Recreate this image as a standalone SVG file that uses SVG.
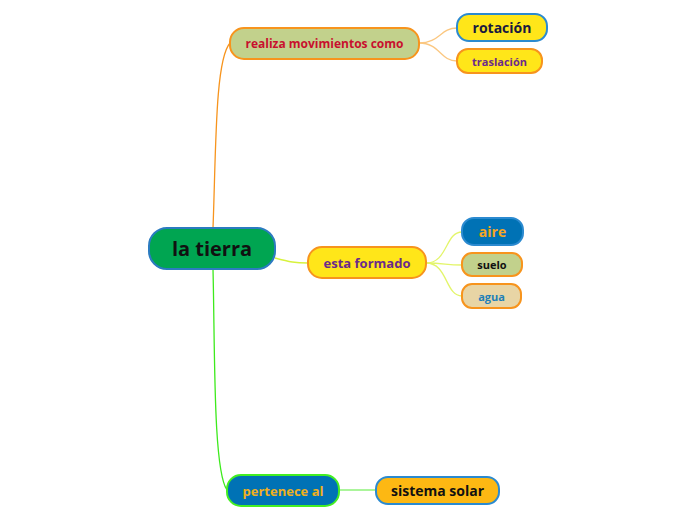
<svg xmlns="http://www.w3.org/2000/svg" width="696" height="520" viewBox="0 0 696 520">
<style>
text{font-family:"Open Sans","Noto Sans","DejaVu Sans",sans-serif;font-weight:bold;text-anchor:middle;dominant-baseline:central}
.c{fill:none;stroke-width:1.3}
</style>
<rect width="696" height="520" fill="#fff"/>
<g id="connectors">
<path class="c" stroke="#f7941d" stroke-width="2" d="M213,228 C216,150 215,60 230,43"/>
<path class="c" stroke="#3dea1c" stroke-width="2" d="M213,269 C215,350 213,470 227,490"/>
<path class="c" stroke="#d7f23c" d="M275,258 C290,262 295,263 308,263"/>
<path class="c" stroke="#fbc780" d="M419,43 C440,43 440,28 457,28"/>
<path class="c" stroke="#fbc780" d="M419,43 C440,43 440,61 457,61"/>
<path class="c" stroke="#e3f56a" d="M426,263 C448,263 445,232 462,232"/>
<path class="c" stroke="#e3f56a" d="M426,263 C445,263 445,265 462,265"/>
<path class="c" stroke="#e3f56a" d="M426,263 C448,263 445,296 462,296"/>
<path class="c" stroke="#8ff27a" d="M339,490 L376,490"/>
</g>
<g id="n-tierra"><rect x="149" y="228" width="126" height="41" rx="18" fill="#00a551" stroke="#2b7bc0" stroke-width="2"/><text x="212" y="248.5" font-size="20" fill="#111">la tierra</text></g>
<g id="n-realiza"><rect x="230" y="28" width="189" height="31" rx="14" fill="#c2d18c" stroke="#f7941d" stroke-width="2"/><text x="324.5" y="43.5" font-size="12" fill="#c8102e">realiza movimientos  como</text></g>
<g id="n-rotacion"><rect x="457" y="14" width="90" height="27" rx="12" fill="#ffe619" stroke="#2b8ad0" stroke-width="2"/><text x="502" y="27.5" font-size="14" fill="#1a1a40">rotación</text></g>
<g id="n-traslacion"><rect x="457" y="49" width="85" height="24" rx="11" fill="#ffe619" stroke="#f7941d" stroke-width="2"/><text x="499.5" y="61" font-size="11" fill="#6b2a8c">traslación</text></g>
<g id="n-esta"><rect x="308" y="247" width="118" height="31" rx="14" fill="#ffe619" stroke="#f7941d" stroke-width="2"/><text x="367" y="262.5" font-size="13" fill="#6b2a8c">esta formado</text></g>
<g id="n-aire"><rect x="462" y="218" width="61" height="27" rx="12" fill="#0072b5" stroke="#2b8ad0" stroke-width="2"/><text x="492.5" y="231.5" font-size="14" fill="#f5a623">aire</text></g>
<g id="n-suelo"><rect x="462" y="253" width="60" height="23" rx="10" fill="#c2d18c" stroke="#f7941d" stroke-width="2"/><text x="492" y="264.5" font-size="11" fill="#111">suelo</text></g>
<g id="n-agua"><rect x="462" y="284" width="59" height="24" rx="10" fill="#e8d5a5" stroke="#f7941d" stroke-width="2"/><text x="491.5" y="296" font-size="11" fill="#1e7fb8">agua</text></g>
<g id="n-pertenece"><rect x="227" y="475" width="112" height="31" rx="14" fill="#0072b5" stroke="#44ee22" stroke-width="2"/><text x="283" y="490.5" font-size="13" fill="#f0b020">pertenece al</text></g>
<g id="n-sistema"><rect x="376" y="477" width="123" height="27" rx="12" fill="#fdb813" stroke="#2b8ad0" stroke-width="2"/><text x="437.5" y="490.5" font-size="14" fill="#111">sistema solar</text></g>
</svg>
